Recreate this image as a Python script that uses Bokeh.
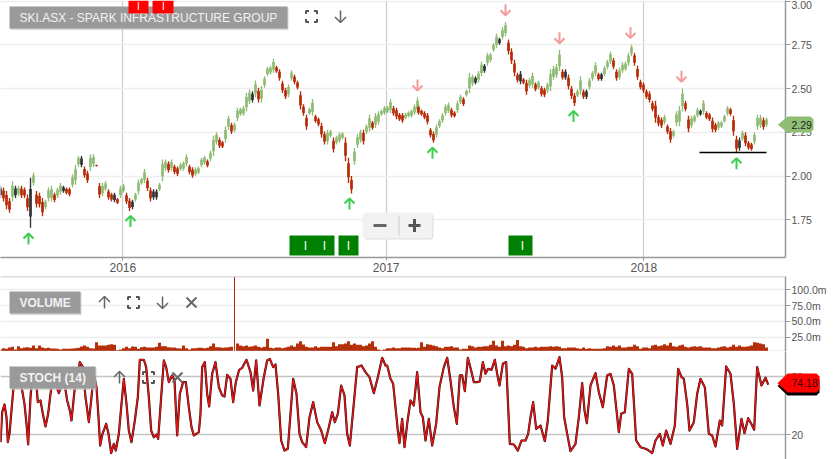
from bokeh.plotting import figure
from bokeh.layouts import column
from bokeh.models import (Range1d, FixedTicker, LinearAxis, BoxAnnotation, Label,
                          PolyAnnotation, Span)
from bokeh.embed import file_html
from bokeh.resources import INLINE

# ---- price bars, sampled along the session axis ----
high = [1.945,1.935,1.915,1.875,1.97,1.945,1.945,1.945,1.935,1.895,1.99,2.02,1.915,1.905,1.875,1.865,1.935,1.945,1.905,1.935,
1.96,1.945,1.935,1.935,2.01,2.065,2.115,2.115,2.055,2.03,2.125,2.125,2.065,1.96,1.96,1.97,1.925,1.905,1.905,1.875,
1.945,1.955,1.905,1.875,1.865,1.905,1.98,1.99,2.04,1.99,1.935,1.925,1.925,1.96,2.095,2.095,2.085,2.095,2.065,2.055,
2.075,2.085,2.125,2.065,2.05,2.05,2.055,2.105,2.115,2.095,2.145,2.23,2.25,2.22,2.20,2.285,2.345,2.305,2.305,2.39,
2.39,2.40,2.475,2.495,2.485,2.545,2.505,2.515,2.57,2.625,2.63,2.67,2.63,2.61,2.545,2.505,2.525,2.605,2.58,2.545,
2.485,2.41,2.35,2.39,2.44,2.35,2.335,2.305,2.255,2.265,2.265,2.22,2.23,2.25,2.25,2.22,2.105,2.00,2.16,2.24,
2.265,2.265,2.295,2.35,2.315,2.36,2.37,2.38,2.40,2.40,2.44,2.40,2.39,2.36,2.36,2.36,2.37,2.38,2.41,2.45,
2.41,2.38,2.37,2.36,2.275,2.255,2.295,2.325,2.36,2.41,2.42,2.39,2.37,2.43,2.465,2.45,2.495,2.59,2.58,2.57,
2.60,2.655,2.64,2.705,2.705,2.76,2.815,2.79,2.85,2.88,2.78,2.73,2.665,2.59,2.60,2.56,2.55,2.56,2.59,2.535,
2.545,2.515,2.505,2.535,2.61,2.63,2.64,2.72,2.61,2.61,2.58,2.515,2.475,2.495,2.57,2.495,2.495,2.56,2.60,2.65,
2.59,2.59,2.63,2.665,2.71,2.675,2.61,2.62,2.65,2.655,2.705,2.75,2.705,2.63,2.55,2.535,2.495,2.485,2.43,2.43,
2.35,2.335,2.35,2.295,2.275,2.265,2.37,2.40,2.50,2.43,2.345,2.345,2.35,2.39,2.38,2.435,2.37,2.36,2.335,2.305,
2.315,2.315,2.35,2.40,2.39,2.345,2.23,2.22,2.26,2.25,2.20,2.19,2.25,2.35,2.35,2.335,2.335]
low = [1.875,1.855,1.81,1.79,1.855,1.875,1.885,1.875,1.875,1.80,1.705,1.945,1.82,1.82,1.77,1.81,1.855,1.855,1.85,1.875,
1.895,1.905,1.895,1.885,1.935,1.95,2.055,2.05,1.99,1.96,2.03,2.05,2.055,1.875,1.885,1.915,1.865,1.855,1.85,1.84,
1.875,1.905,1.84,1.80,1.81,1.855,1.895,1.95,1.96,1.915,1.855,1.865,1.865,1.915,1.97,2.03,2.02,2.03,2.01,2.00,
2.03,2.03,2.055,2.01,1.99,2.00,2.01,2.05,2.065,2.05,2.085,2.115,2.18,2.16,2.16,2.19,2.265,2.24,2.25,2.315,
2.345,2.345,2.37,2.41,2.42,2.45,2.42,2.42,2.505,2.57,2.58,2.59,2.59,2.545,2.475,2.44,2.45,2.545,2.525,2.495,
2.38,2.345,2.265,2.35,2.345,2.305,2.285,2.22,2.18,2.18,2.22,2.135,2.18,2.19,2.21,2.085,1.96,1.90,2.065,2.16,
2.19,2.18,2.24,2.255,2.265,2.275,2.295,2.345,2.35,2.36,2.36,2.345,2.325,2.315,2.305,2.325,2.335,2.335,2.35,2.36,
2.35,2.345,2.325,2.295,2.22,2.19,2.22,2.275,2.305,2.345,2.36,2.335,2.335,2.36,2.41,2.40,2.455,2.475,2.515,2.525,
2.535,2.57,2.59,2.63,2.65,2.71,2.73,2.75,2.78,2.80,2.695,2.64,2.57,2.535,2.525,2.525,2.465,2.505,2.505,2.485,
2.495,2.455,2.45,2.475,2.485,2.55,2.56,2.60,2.55,2.55,2.495,2.44,2.40,2.45,2.465,2.44,2.44,2.495,2.545,2.57,
2.545,2.545,2.57,2.61,2.64,2.61,2.545,2.55,2.59,2.60,2.63,2.685,2.63,2.55,2.495,2.475,2.44,2.42,2.37,2.305,
2.285,2.275,2.295,2.24,2.19,2.22,2.285,2.285,2.37,2.37,2.25,2.275,2.305,2.335,2.345,2.35,2.325,2.315,2.25,2.25,
2.265,2.275,2.305,2.345,2.345,2.23,2.135,2.145,2.20,2.17,2.15,2.145,2.18,2.265,2.275,2.265,2.28]
bar_x = list(range(0, 1252, 9)) + list(range(1254, 2299, 9))

volume_m = [3.7,5.9,4.8,6.9,8,3.7,9,5.9,6.9,7.4,6.4,10.1,5.9,10.1,6.9,5.9,6.4,5.3,5.3,4.8,
3.7,4.8,4.8,4.8,5.3,5.9,6.4,8.5,10.1,8,5.9,5.3,15.4,10.1,10.1,10.1,11.2,12.2,11.2,2.7,
3.7,5.9,8,5.9,8.5,8,4.8,7.4,8,6.9,6.9,6.9,8,14.4,9,9,7.4,6.9,6.9,5.9,
5.3,10.1,5.9,3.7,5.9,5.9,6.4,6.4,5.9,6.4,9,13.3,7.4,7.4,6.4,6.9,7.4,8,130,13.3,
10.1,9,10.1,8,9,10.1,8,6.9,8,20.7,6.4,5.9,6.9,6.9,5.9,6.9,8,10.1,8,13.3,
17,11.7,8,6.9,6.9,9,6.9,8,8,8,8,15.4,9,12.2,12.2,13.3,17,11.2,13.3,11.2,
11.2,9,10.1,13.3,17,8,3.7,2.7,3.7,5.9,5.9,6.9,5.9,5.9,6.9,6.9,6.9,6.4,6.4,5.9,
6.4,15.4,8,12.2,11.2,10.1,9,6.9,5.9,8,8,9,6.9,6.9,3.7,4.8,4.8,10.1,9,6.9,
8,8,9,9,11.2,17.6,10.1,8,17.6,9,10.1,9,11.2,18.6,9,8,5.9,6.9,6.9,8,
6.9,8,8,8,9,8,9,8,5.9,5.9,6.9,6.9,6.9,5.9,4.8,6.9,4.8,5.9,4.8,4.8,
4.8,4.8,5.9,9,8,10.1,8,10.1,6.9,6.9,8,8,11.2,9,4.8,6.9,6.9,5.9,10.1,11.2,
9,10.1,12.2,10.1,14.4,9,8,10.1,11.2,8,6.9,8,9,8,9,6.9,6.9,6.9,5.9,5.9,
6.9,8,9,6.9,8,11.2,8,10.1,8,8,9,10.1,15.4,14.4,13.3,12.2,6.9]

stoch_x_a = [0,5,12,18,22,27,33,40,48,58,65,72,78,83,90,97,105,112,120,127,135,143,150,158,165,175,185,193,200,208,213,222,230,238,247,255,265,272,280,288,294,299,306,317,324,332,340,346,355,363,370,378,385,393,403,412,418,430,437,445,452,460,468,473,482,490,497,505,515,522,530,538,548,556,565,573,580,595,600,605,613,620,626,635,645,655,665,672,680,690,698,706,716,725,738,750,758,767,777,790,800,808,818,825,833,842,852,862,870,878,888,897,905,917,927,938,950,962,973,985,995,1003,1012,1022,1032,1040,1048,1058,1070,1083,1095,1107,1120,1132,1145,1155,1160,1170,1178,1185,1192,1197,1205,1212,1220,1230,1240]
stoch_a = [12.4,43.4,51.4,38.2,12.4,21,45.2,72.8,86.5,79.6,65.8,52,31.3,10,59,86.5,83.1,53.8,55.5,41.7,28.6,41.7,62.4,83.1,72.8,63.1,72.8,71,55.5,45.2,34.8,65.8,76.2,95.2,90,59,33.1,55.5,83.1,69.3,38.2,8.9,21,31.3,21,1,10.6,3.7,21,52,77.9,52,24.4,12.4,34.8,59,97.6,97.6,90,59,24.4,17.5,20.3,15.8,59,96.9,90,74.5,81.4,76.2,19.3,62.4,74.5,74.5,48.6,27.9,19.3,22.7,41.7,90,95.2,62.4,49.3,83.1,95.2,69.3,60.7,59.6,82.1,77.9,53.8,74.5,87.2,89.3,97.6,84.8,65.8,96.9,50.3,79.6,96.9,98.6,90,92.8,62.4,14.1,3.7,5.5,41.7,77.9,62.4,21,12.4,7.2,38.2,53.8,33.1,24.4,11.3,27.9,43.4,33.1,41.7,71,60.7,21,8.9,45.2,90,91.7,84.8,79.6,63.1,79.6,99.7,91.7,91.7,77.9,72.8,48.6,24.4,11.3,36.5,7.2,31.3,55.5,50.3]
stoch_x_b = [5,15,22,30,40,50,62,72,85,95,105,115,124,133,140,148,157,167,175,185,193,202,210,218,228,238,245,252,262,272,283,295,307,318,330,338,345,353,362,375,388,397,410,420,432,440,446,455,465,480,490,500,507,514,525,540,550,562,575,585,595,610,617,628,640,650,662,675,690,700,710,720,733,742,752,765,778,788,798,805,815,822,835,845,855,868,880,890,900,913,920,932,945,955,965,978,987,998,1010,1016,1025,1038,1050,1058]
stoch_b = [84.8,43.4,38.2,14.1,36.5,8.9,31.3,69.3,90,99.7,76.2,48.6,31.3,81.4,81.4,65.2,99.7,86.5,74.5,74.5,75.2,95.2,83.1,88.3,87.2,97.6,83.1,71,93.4,95.2,10.6,10,3.7,14.1,14.1,21,38.2,53.8,26.2,29.6,13.4,34.8,91.7,88.3,100.4,79.6,38.2,21,3,10.6,38.2,73.4,45.2,32,71,83.8,64.1,48.6,81.4,83.1,71,22.7,41.7,43.4,88.3,83.1,14.1,7.2,5.5,3.7,1,14.1,21,8.9,24.4,10.6,29.6,88.3,79.6,77.9,52,24.4,33.1,62.4,77.9,69.3,21,19.3,7.9,34.8,29.6,90.7,83.1,52,5.5,36.5,21.7,37.2,29.6,25.2,90,71,79,72]

price_ticks = [1.75, 2.00, 2.25, 2.50, 2.75, 3.00]
volume_ticks = [25, 50, 75, 100]
volume_labels = ["25.0m", "50.0m", "75.0m", "100.0m"]
stoch_ticks = [20, 80]
year_pos = [367, 1157, 1930]
year_labels = ["2016", "2017", "2018"]
buy_x = [84, 390, 1047, 1296, 1719, 2208]
buy_y = [1.64, 1.74, 1.84, 2.13, 2.34, 2.07]
sell_x = [1251, 1515, 1677, 1890, 2043]
sell_y = [2.52, 2.95, 2.79, 2.82, 2.57]
support_level = 2.134
support_x = [2097, 2298]
last_price = "2.29"
last_stoch = "74.18"

GREEN, RED, BLACK = "#8fbc74", "#b82a05", "#2f3336"
FONT = "Liberation Sans"
W = 785
XR = (0, 2355)


def make(h, yr, extra_bottom=0):
    p = figure(width=835, height=h + extra_bottom, frame_width=W, frame_height=h,
               x_range=Range1d(*XR), y_range=Range1d(*yr), output_backend="svg",
               toolbar_location=None, x_axis_location=None, y_axis_location="right",
               min_border_left=0, min_border_right=50, min_border_top=0,
               min_border_bottom=extra_bottom, outline_line_color=None,
               background_fill_color="white", border_fill_color="white")
    a = p.yaxis[0]
    a.axis_line_color = "#999999"; a.axis_line_width = 1.5
    a.major_tick_line_color = "#999999"; a.major_tick_in = 0; a.major_tick_out = 5
    a.minor_tick_line_color = None
    a.major_label_text_font = FONT; a.major_label_text_font_size = "10.5px"
    a.major_label_text_color = "#555555"; a.major_label_standoff = 1
    p.xgrid.visible = False
    p.ygrid.grid_line_color = "#eeeeee"; p.ygrid.grid_line_width = 1.5
    return p


# ---- transparent layer above all panels for the labels, buttons and tags
ov = figure(width=835, height=459, x_range=Range1d(0, 2505), y_range=Range1d(459, 0),
            output_backend="svg", toolbar_location=None, x_axis_location=None,
            y_axis_location=None, min_border=0, outline_line_color=None,
            background_fill_alpha=0, border_fill_alpha=0)
ov.xgrid.visible = False
ov.ygrid.visible = False
ov.styles = {"position": "absolute", "left": "0px", "top": "0px"}


def box(x0, x1, y0, y1, color, radius=0, alpha=1.0):
    ov.add_layout(BoxAnnotation(left=x0 * 3, right=x1 * 3, top=y0, bottom=y1,
                                fill_color=color, fill_alpha=alpha, line_color=None,
                                border_radius=radius, level="overlay"))


def text(x, y, t, color="white", size="12px", style="normal", align="left"):
    ov.add_layout(Label(x=x * 3, y=y, text=t, text_color=color, text_font=FONT,
                        text_font_size=size, text_font_style=style, text_align=align,
                        text_baseline="middle", level="overlay"))


def lines(segs, color="#666666", w=1.5):
    ov.multi_line([[a * 3 for a in s[0]] for s in segs], [list(s[1]) for s in segs],
                  line_color=color, line_width=w)


def arrow(cx, cy, up):
    d = -1 if up else 1
    lines([([cx, cx], [cy - 6, cy + 6]),
           ([cx - 5.5, cx, cx + 5.5], [cy + d * 0.5, cy + d * 6, cy + d * 0.5])])


def full(cx, cy):
    r, k = 5.5, 3
    segs = []
    for sx in (-1, 1):
        for sy in (-1, 1):
            segs.append(([cx + sx * (r - k), cx + sx * r, cx + sx * r],
                         [cy + sy * r, cy + sy * r, cy + sy * (r - k)]))
    lines(segs, "#555555", 2)


def cross(cx, cy):
    r = 5
    lines([([cx - r, cx + r], [cy - r, cy + r]), ([cx - r, cx + r], [cy + r, cy - r])], "#666666", 2)


def tag(xs, ys, color):
    ov.add_layout(PolyAnnotation(xs=[a * 3 for a in xs], ys=list(ys), fill_color=color,
                                 fill_alpha=1, line_color=None, level="overlay"))


# ---- main price panel
y_top, y_bot = 3.003, 3.003 - 257 / 175
price = make(257, (y_bot, y_top), 19)
price.yaxis[0].ticker = FixedTicker(ticks=price_ticks)
price.yaxis[0].major_label_overrides = {t: f"{t:.2f}" for t in price_ticks}
xa = LinearAxis(ticker=FixedTicker(ticks=year_pos),
                major_label_overrides=dict(zip(year_pos, year_labels)))
xa.axis_line_color = "#999999"; xa.axis_line_width = 1.5
xa.major_tick_line_color = "#999999"; xa.major_tick_in = 0; xa.major_tick_out = 3
xa.minor_tick_line_color = None
xa.major_label_text_font = FONT; xa.major_label_text_font_size = "12px"
xa.major_label_text_color = "#555555"; xa.major_label_standoff = 2
price.add_layout(xa, "below")
price.xgrid.visible = True
price.xgrid[0].ticker = FixedTicker(ticks=year_pos)
price.xgrid.grid_line_color = "#cccccc"; price.xgrid.grid_line_width = 1.2

n = min(len(bar_x), len(high), len(low))
mids = [(high[i] + low[i]) / 2 for i in range(n)]
cols = []
for i in range(n):
    d = mids[i] - mids[i - 1] if i else 0
    cols.append(GREEN if d > 0.003 else RED if d < -0.003 else BLACK)
# thin stem for the full range, thicker body for the middle of it
price.vbar(x=bar_x[:n], top=high[:n], bottom=low[:n], width=4, fill_color=cols, line_color=None)
price.vbar(x=bar_x[:n], top=[m + (h - m) * 0.55 for m, h in zip(mids, high)],
           bottom=[m - (m - l) * 0.55 for m, l in zip(mids, low)],
           width=8, fill_color=cols, line_color=None)
price.segment(x0=[support_x[0]], x1=[support_x[1]], y0=[support_level], y1=[support_level],
              line_color="black", line_width=1.5)


def signal_arrows(xs, ys, up, color):
    d = -1 if up else 1
    hx, hy = 5 * 3, 5.5 / 175
    price.multi_line([[x, x] for x in xs], [[y - hy, y + hy] for y in ys],
                     line_color=color, line_width=2)
    price.multi_line([[x - hx, x, x + hx] for x in xs],
                     [[y - d * 0.5 / 175, y - d * hy, y - d * 0.5 / 175] for y in ys],
                     line_color=color, line_width=2)


signal_arrows(buy_x, buy_y, True, "#3ccf4e")
signal_arrows(sell_x, sell_y, False, "#f59a9a")

box(10, 288, 7, 29.5, "#c4c4c4", alpha=0.7)
box(9, 287, 6, 28, "#9a9a9a")
text(19, 17, "SKI.ASX - SPARK INFRASTRUCTURE GROUP", "#f2f2f2", "12px")
box(128, 148, 0, 13, "#ff0000"); box(152, 173, 0, 13, "#ff0000")
text(138, 6, "I", "white", "10px", "normal", "center"); text(163, 6, "I", "white", "10px", "normal", "center")
box(289, 334, 235, 255, "#008000"); box(338, 358, 235, 255, "#008000"); box(508, 532, 235, 255, "#008000")
for xp in (305, 324, 348, 522):
    text(xp, 245, "I", "white", "12px", "normal", "center")
full(311, 16); arrow(340, 16, False)
box(363, 433, 213, 239, "#dddddd", 4)
box(362, 432, 212, 238, "#f2f2f2", 4)
box(373, 386, 223.5, 226.5, "#666666")
box(398, 399, 215, 235, "#cccccc")
box(408, 420, 223.5, 226.5, "#555555"); box(412.5, 415.5, 218.5, 231.5, "#555555")
tag([777.3, 787, 810, 813, 813, 810, 787], [124.3, 116, 116, 119, 129, 132, 132], "#8fbf75")
text(791, 124.5, last_price, "#222222", "10.5px")

# ---- volume panel
vol = make(75, (2.4, 121))
vol.yaxis[0].ticker = FixedTicker(ticks=volume_ticks)
vol.yaxis[0].major_label_overrides = dict(zip(volume_ticks, volume_labels))
vol_w = [3 if v > 50 else 9 for v in volume_m]
vol.vbar(x=bar_x[:len(volume_m)], top=[v + 1.8 for v in volume_m], bottom=0, width=vol_w,
         fill_color="#b5300a", line_color=None)
vol.add_layout(Span(location=121, dimension="width", line_color="#bbbbbb", line_width=1.5))
vol.add_layout(Span(location=2.4, dimension="width", line_color="#bbbbbb", line_width=1.5))
box(10, 81, 292, 314.5, "#c4c4c4", alpha=0.7)
box(9, 80, 291, 313, "#9a9a9a")
text(19, 302, "VOLUME", "#f2f2f2", "12px", "bold")
arrow(104, 302, True); full(133, 302); arrow(162, 302, False); cross(191, 302)

# ---- stochastic panel
st = make(108, (20 - 24.7 / 0.967, 80 + 25.3 / 0.967))
st.yaxis[0].ticker = FixedTicker(ticks=stoch_ticks)
st.ygrid.grid_line_color = "#c4c4c4"; st.ygrid.grid_line_width = 1.5
sx = stoch_x_a + [1245 + v for v in stoch_x_b]
sv = stoch_a + stoch_b
st.line(sx, sv, line_color="#111111", line_width=2.2, line_join="round")
st.line(sx, sv, line_color="#ee1111", line_width=1.4, line_join="round")
box(10, 96, 367, 389.5, "#c4c4c4", alpha=0.7)
box(9, 95, 366, 388, "#9a9a9a")
text(19, 377, "STOCH (14)", "#f2f2f2", "12px", "bold")
arrow(119, 377, True); full(148, 377); cross(177, 377)
tag([777, 787, 816, 819, 819, 816, 787], [385.5, 376, 376, 379, 392, 395, 395], "#000000")
tag([777, 787, 816, 819, 819, 816, 787], [382.7, 373, 373, 376, 389, 392, 392], "#ff0000")
text(791, 382.7, last_stoch, "#330000", "10.5px")

page = column(price, vol, st, spacing=0,
              styles={"position": "absolute", "left": "0px", "top": "0px"})
open("out.html", "w").write(file_html([page, ov], INLINE))
